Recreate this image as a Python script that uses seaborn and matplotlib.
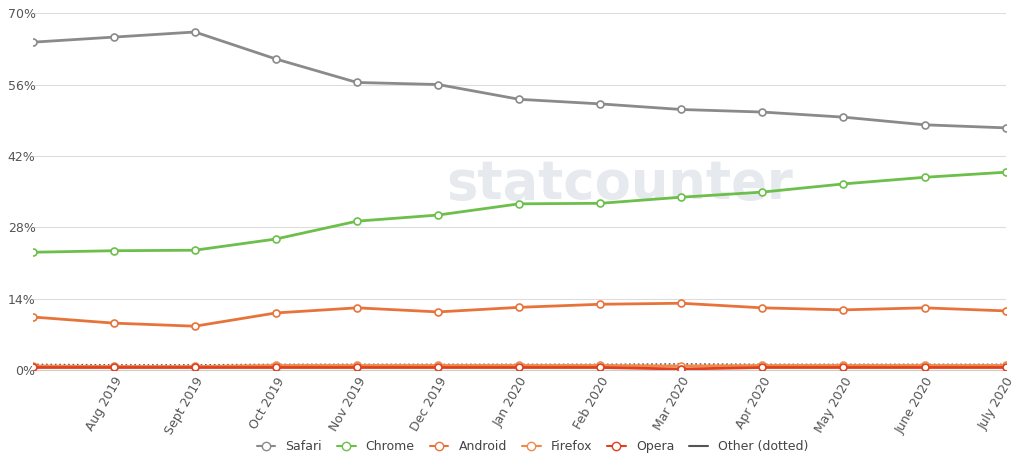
import matplotlib
matplotlib.use("Agg")
import matplotlib.pyplot as plt
import seaborn as sns
import pandas as pd
from matplotlib.lines import Line2D

months = ["July 2019","Aug 2019","Sept 2019","Oct 2019","Nov 2019","Dec 2019","Jan 2020",
          "Feb 2020","Mar 2020","Apr 2020","May 2020","June 2020","July 2020"]
safari = [64.3,65.3,66.3,61.0,56.4,56.0,53.1,52.2,51.1,50.6,49.6,48.1,47.5]
chrome = [23.1,23.4,23.5,25.7,29.2,30.4,32.6,32.7,33.9,34.9,36.5,37.8,38.8]
android = [10.4,9.2,8.6,11.2,12.2,11.4,12.3,12.9,13.1,12.2,11.8,12.2,11.6]
firefox = [0.8,0.7,0.7,0.9,0.9,0.9,0.9,0.9,0.8,0.9,0.9,0.9,0.9]
opera = [0.5,0.5,0.5,0.5,0.5,0.5,0.5,0.5,0.2,0.5,0.5,0.5,0.5]
other = [1.1,1.0,1.0,1.1,1.1,1.1,1.1,1.1,1.2,1.1,1.1,1.1,1.1]

series = {"Safari": (safari, "#8a8a8a"), "Chrome": (chrome, "#6cbf4a"),
          "Android": (android, "#e8733a"), "Firefox": (firefox, "#f08a4b"),
          "Opera": (opera, "#e0401c")}

sns.set_style("white")
fig = plt.figure(figsize=(10.24, 4.69), dpi=100)
ax = fig.add_axes([0.032, 0.211, 0.950, 0.761])

ax.text(0.425, 0.52, "statcounter", transform=ax.transAxes, fontsize=38, color="#e6e9ed",
        fontweight="bold", ha="left", va="center", zorder=0)

x = list(range(len(months)))
for name, (vals, col) in series.items():
    df = pd.DataFrame({"x": x, "y": vals})
    sns.lineplot(data=df, x="x", y="y", ax=ax, color=col, lw=2, marker="o",
                 markersize=5, markerfacecolor="white", markeredgecolor=col,
                 markeredgewidth=1.2, zorder=3)
sns.lineplot(data=pd.DataFrame({"x": x, "y": other}), x="x", y="y", ax=ax,
             color="#555555", lw=1.2, linestyle=":", zorder=2)

ax.set_xlim(0, 12)
ax.set_ylim(0, 70)
ax.set_yticks([0, 14, 28, 42, 56, 70])
ax.set_yticklabels([f"{v}%" for v in [0, 14, 28, 42, 56, 70]], fontsize=9, color="#555")
ax.tick_params(axis="y", pad=-2, length=0)
ax.set_xticks(x[1:])
ax.set_xticklabels(months[1:], rotation=60, ha="right", rotation_mode="anchor", fontsize=9, color="#555")
ax.tick_params(axis="x", length=0)
ax.grid(axis="y", color="#dddddd", lw=0.8)
ax.set_xlabel(""); ax.set_ylabel("")
for s in ["top", "right", "left"]:
    ax.spines[s].set_visible(False)
ax.spines["bottom"].set_color("#cccccc")

handles = [Line2D([], [], color=c, marker="o", markerfacecolor="white", lw=1.5, markersize=6)
           for _, (v, c) in series.items()]
handles.append(Line2D([], [], color="#555555", lw=1.5))
labels = list(series.keys()) + ["Other (dotted)"]
fig.legend(handles, labels, loc="center", bbox_to_anchor=(0.52, 0.047), ncol=6, frameon=False,
           fontsize=9, labelcolor="#444", handlelength=1.5, columnspacing=1.2)
fig.savefig("out.png", dpi=100)
